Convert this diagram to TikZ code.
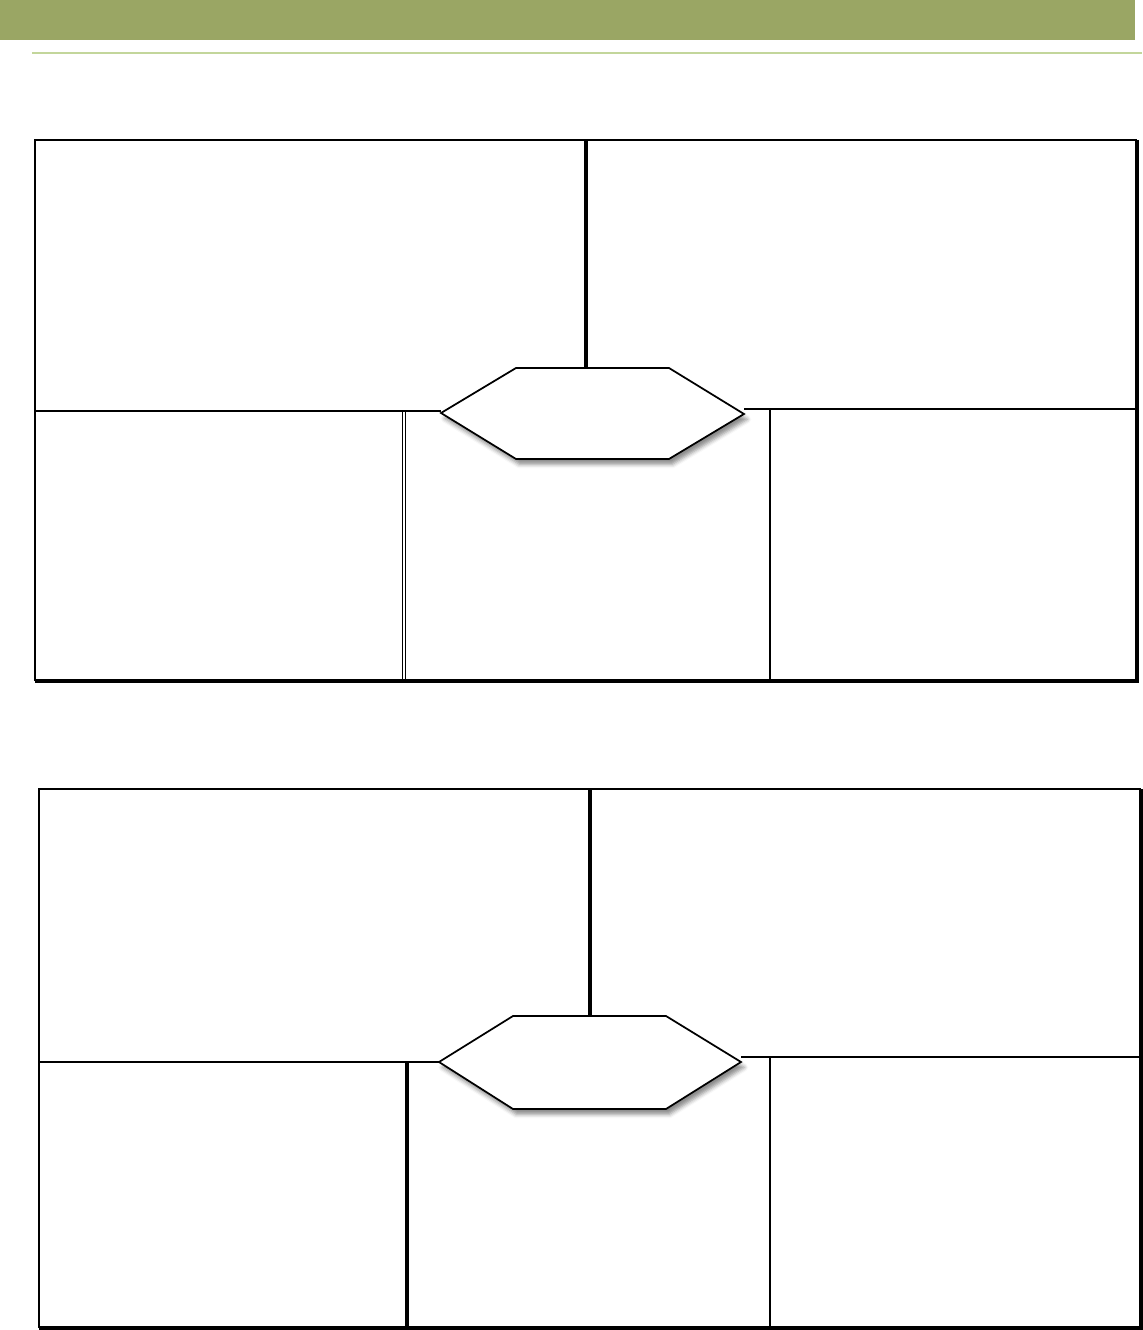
\documentclass[tikz,border=0pt]{standalone}
\usepackage{tikz}
\usetikzlibrary{shadows,shadows.blur}

\definecolor{bannergreen}{RGB}{154,166,100}
\definecolor{rulegreen}{RGB}{195,214,155}

\begin{document}
\begin{tikzpicture}[x=0.75pt,y=-0.75pt,
        frame/.style={draw=black,line width=1.5pt},
        thinline/.style={draw=black,line width=1.1pt},
        thickline/.style={draw=black,line width=2.5pt},
        hexbox/.style={draw=black,line width=1.3pt,fill=white,
          blur shadow={shadow xshift=2.5pt,shadow yshift=-4pt,
            shadow blur radius=3pt,shadow opacity=45}}]

  \useasboundingbox (0,0) rectangle (1142,1330);

  % banner and rule
  \fill[bannergreen] (0,0) rectangle (1135,40);
  \coordinate (r1) at (32,53);
  \coordinate (r2) at (1142,53);
  \draw[rulegreen,line width=1.1pt] (r1) -- (r2);

  % first chart
  \coordinate (a-nw) at (35,140);
  \coordinate (a-ne) at (1137,140);
  \coordinate (a-se) at (1137,681);
  \coordinate (a-sw) at (35,681);
  \coordinate (a-top) at (586,140);
  \coordinate (a-h1) at (516,368);
  \coordinate (a-h2) at (669,368);
  \coordinate (a-h3) at (744,414);
  \coordinate (a-h4) at (669,459);
  \coordinate (a-h5) at (516,459);
  \coordinate (a-h6) at (441,413);
  \coordinate (a-l) at (35,411);
  \coordinate (a-r) at (1137,409);

  \draw[frame] (a-sw) -- (a-nw) -- (a-ne);
  \draw[thickline] (a-ne) -- (a-se) -- (a-sw);
  \draw[thickline] (a-top) -- (586,368);
  \draw[thinline] (a-l) -- (a-h6 |- a-l);
  \draw[thinline] (744,409) -- (a-r);
  \draw[thinline] (402.5,411) -- (402.5,681);
  \draw[thinline] (405.5,411) -- (405.5,681);
  \draw[thinline] (770,409) -- (770,681);
  \draw[hexbox] (a-h1) -- (a-h2) -- (a-h3) -- (a-h4) -- (a-h5) -- (a-h6) -- cycle;

  % second chart
  \coordinate (b-nw) at (39,789);
  \coordinate (b-ne) at (1141,789);
  \coordinate (b-se) at (1141,1328);
  \coordinate (b-sw) at (39,1328);
  \coordinate (b-top) at (590,789);
  \coordinate (b-h1) at (513,1016);
  \coordinate (b-h2) at (666,1016);
  \coordinate (b-h3) at (741,1062);
  \coordinate (b-h4) at (666,1109);
  \coordinate (b-h5) at (513,1109);
  \coordinate (b-h6) at (439,1062);
  \coordinate (b-l) at (39,1062);
  \coordinate (b-r) at (1141,1057);

  \draw[frame] (b-sw) -- (b-nw) -- (b-ne);
  \draw[thickline] (b-ne) -- (b-se) -- (b-sw);
  \draw[thickline] (b-top) -- (590,1016);
  \draw[thinline] (b-l) -- (b-h6);
  \draw[thinline] (741,1057) -- (b-r);
  \draw[thickline] (407,1062) -- (407,1328);
  \draw[thinline] (770,1057) -- (770,1328);
  \draw[hexbox] (b-h1) -- (b-h2) -- (b-h3) -- (b-h4) -- (b-h5) -- (b-h6) -- cycle;

\end{tikzpicture}
\end{document}
